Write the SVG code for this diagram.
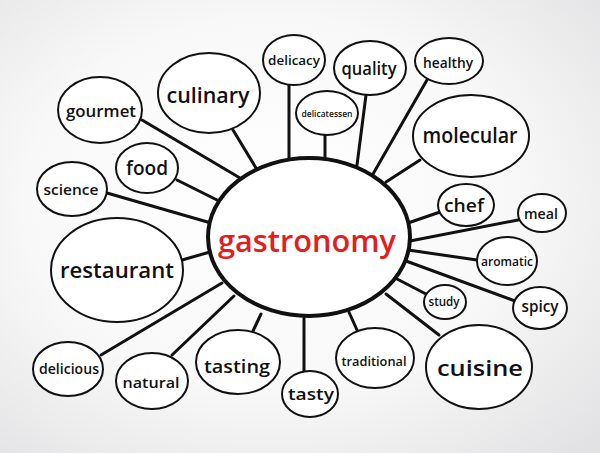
<svg xmlns="http://www.w3.org/2000/svg" width="600" height="453" viewBox="0 0 600 453">
<defs>
<radialGradient id="bg" cx="0.45" cy="0.45" r="0.75">
<stop offset="0" stop-color="#ffffff"/>
<stop offset="0.55" stop-color="#f8f8f8"/>
<stop offset="1" stop-color="#e2e2e4"/>
</radialGradient>
<style>
.n ellipse{fill:#fff;stroke:#111;stroke-width:2}
.n text{font-family:"Open Sans","Liberation Sans",sans-serif;font-weight:600;fill:#111;text-anchor:middle}
#connectors line{stroke:#111;stroke-width:3;stroke-linecap:round}
</style>
</defs>
<rect width="600" height="453" fill="url(#bg)"/>
<g id="connectors">
<line x1="142" y1="120" x2="240" y2="178"/>
<line x1="233" y1="130" x2="256" y2="168"/>
<line x1="177" y1="180" x2="219" y2="201"/>
<line x1="107" y1="193" x2="211" y2="223"/>
<line x1="289" y1="85" x2="289" y2="160"/>
<line x1="325" y1="135" x2="325" y2="159"/>
<line x1="366" y1="95" x2="357" y2="165"/>
<line x1="427" y1="80" x2="373" y2="174"/>
<line x1="420" y1="160" x2="386" y2="182"/>
<line x1="440" y1="212" x2="408" y2="223"/>
<line x1="518" y1="220" x2="410" y2="241"/>
<line x1="477" y1="260" x2="408" y2="250"/>
<line x1="515" y1="301" x2="406" y2="261"/>
<line x1="426" y1="294" x2="397" y2="279"/>
<line x1="439" y1="335" x2="386" y2="294"/>
<line x1="357" y1="330" x2="348" y2="310"/>
<line x1="304" y1="372" x2="304" y2="318"/>
<line x1="253" y1="331" x2="261" y2="314"/>
<line x1="172" y1="355" x2="234" y2="296"/>
<line x1="101" y1="355" x2="222" y2="283"/>
<line x1="182" y1="260" x2="210" y2="252"/>
</g>
<g id="center">
<ellipse cx="309" cy="237" rx="101" ry="79" fill="#fff" stroke="#111" stroke-width="4"/>
<text x="307" y="252" font-family="Open Sans, Liberation Sans, sans-serif" font-weight="600" font-size="30" fill="#e0201c" text-anchor="middle" textLength="178" lengthAdjust="spacingAndGlyphs">gastronomy</text>
</g>
<g id="n-culinary" class="n"><ellipse cx="209" cy="93" rx="51" ry="40"/><text x="208" y="103" font-size="22" textLength="83" lengthAdjust="spacingAndGlyphs">culinary</text></g>
<g id="n-gourmet" class="n"><ellipse cx="100" cy="110" rx="42" ry="33"/><text x="101" y="117" font-size="17" textLength="70" lengthAdjust="spacingAndGlyphs">gourmet</text></g>
<g id="n-food" class="n"><ellipse cx="147" cy="168" rx="31" ry="25"/><text x="147" y="175" font-size="20" textLength="42" lengthAdjust="spacingAndGlyphs">food</text></g>
<g id="n-science" class="n"><ellipse cx="72" cy="189" rx="35" ry="27"/><text x="71" y="195" font-size="15" textLength="55" lengthAdjust="spacingAndGlyphs">science</text></g>
<g id="n-delicacy" class="n"><ellipse cx="294" cy="60" rx="31" ry="25"/><text x="294" y="65" font-size="13" textLength="52" lengthAdjust="spacingAndGlyphs">delicacy</text></g>
<g id="n-quality" class="n"><ellipse cx="370" cy="68" rx="36" ry="27"/><text x="369" y="75" font-size="18" textLength="55" lengthAdjust="spacingAndGlyphs">quality</text></g>
<g id="n-healthy" class="n"><ellipse cx="449" cy="61" rx="34" ry="23"/><text x="448" y="68" font-size="15" textLength="50" lengthAdjust="spacingAndGlyphs">healthy</text></g>
<g id="n-delicatessen" class="n"><ellipse cx="327" cy="113" rx="31" ry="22"/><text x="327" y="117" font-size="9" textLength="51" lengthAdjust="spacingAndGlyphs">delicatessen</text></g>
<g id="n-molecular" class="n"><ellipse cx="471" cy="136" rx="58" ry="41"/><text x="470" y="143" font-size="21" textLength="95" lengthAdjust="spacingAndGlyphs">molecular</text></g>
<g id="n-chef" class="n"><ellipse cx="466" cy="205" rx="28" ry="21"/><text x="464" y="212" font-size="18" textLength="40" lengthAdjust="spacingAndGlyphs">chef</text></g>
<g id="n-meal" class="n"><ellipse cx="542" cy="213" rx="24" ry="19"/><text x="541" y="219" font-size="15" textLength="34" lengthAdjust="spacingAndGlyphs">meal</text></g>
<g id="n-aromatic" class="n"><ellipse cx="507" cy="261" rx="30" ry="24"/><text x="507" y="266" font-size="12" textLength="52" lengthAdjust="spacingAndGlyphs">aromatic</text></g>
<g id="n-spicy" class="n"><ellipse cx="540" cy="308" rx="27" ry="21"/><text x="540" y="312" font-size="16" textLength="37" lengthAdjust="spacingAndGlyphs">spicy</text></g>
<g id="n-study" class="n"><ellipse cx="445" cy="302" rx="21" ry="17"/><text x="444" y="306" font-size="12" textLength="31" lengthAdjust="spacingAndGlyphs">study</text></g>
<g id="n-cuisine" class="n"><ellipse cx="479" cy="367" rx="53" ry="42"/><text x="480" y="376" font-size="22" textLength="86" lengthAdjust="spacingAndGlyphs">cuisine</text></g>
<g id="n-traditional" class="n"><ellipse cx="375" cy="358" rx="39" ry="30"/><text x="374" y="366" font-size="13" textLength="65" lengthAdjust="spacingAndGlyphs">traditional</text></g>
<g id="n-tasty" class="n"><ellipse cx="310" cy="394" rx="28" ry="23"/><text x="311" y="400" font-size="17" textLength="46" lengthAdjust="spacingAndGlyphs">tasty</text></g>
<g id="n-tasting" class="n"><ellipse cx="238" cy="362" rx="42" ry="32"/><text x="237" y="373" font-size="18" textLength="66" lengthAdjust="spacingAndGlyphs">tasting</text></g>
<g id="n-natural" class="n"><ellipse cx="152" cy="381" rx="36" ry="28"/><text x="151" y="388" font-size="15" textLength="57" lengthAdjust="spacingAndGlyphs">natural</text></g>
<g id="n-delicious" class="n"><ellipse cx="68" cy="369" rx="35" ry="27"/><text x="69" y="374" font-size="14" textLength="60" lengthAdjust="spacingAndGlyphs">delicious</text></g>
<g id="n-restaurant" class="n"><ellipse cx="117" cy="270" rx="66" ry="52"/><text x="117" y="278" font-size="21" textLength="114" lengthAdjust="spacingAndGlyphs">restaurant</text></g>
</svg>
